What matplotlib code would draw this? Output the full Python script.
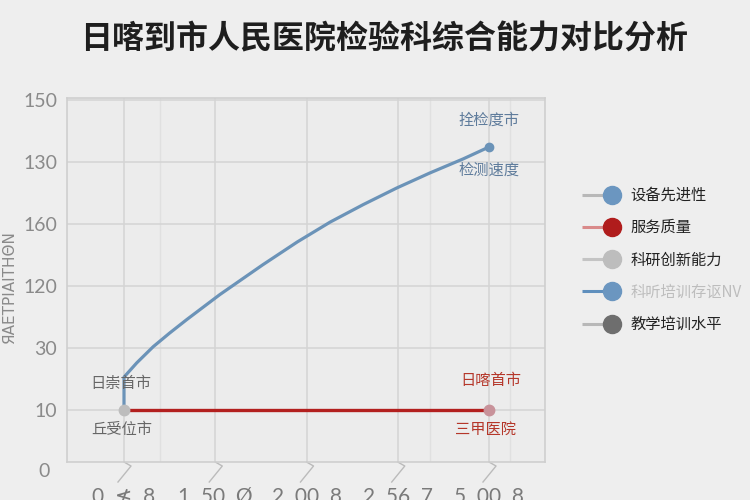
import matplotlib
matplotlib.use("Agg")
import matplotlib.pyplot as plt
from matplotlib.lines import Line2D
from matplotlib.legend_handler import HandlerLine2D

plt.rcParams['font.family'] = ['Noto Sans CJK SC', 'DejaVu Sans']

# 数据
title = "日喀到市人民医院检验科综合能力对比分析"
y_label = "ЯAETPIAITHΘN"
y_ticklabels = ["0", "10", "30", "120", "160", "130", "150"]
x_ticklabels = ["0  ≰  8", "1  50  Ø", "2  00  8", "2  56  7", "5  00  8"]

speed_x = [0, 0, 0.14, 0.32, 0.50, 0.69, 0.87, 1.05, 1.52, 1.90, 2.26, 2.62, 2.99, 3.35, 3.72, 4.0]
speed_y = [1.03, 1.53, 1.76, 2.02, 2.24, 2.46, 2.66, 2.86, 3.34, 3.71, 4.03, 4.31, 4.58, 4.82, 5.05, 5.24]
service_x = [0, 4]
service_y = [1.0, 1.0]

legend_labels = ["设备先进性", "服务质量", "科研创新能力", "科听培训存讴NV", "教学培训水平"]
legend_line_colors = ["#b8b8b8", "#d98a8a", "#c4c4c4", "#5f8fbd", "#b8b8b8"]
legend_dot_colors = ["#6b96c0", "#b01c1c", "#bdbdbd", "#6b96c0", "#6e6e6e"]
legend_text_colors = ["#222222", "#222222", "#222222", "#bdbdbd", "#222222"]


class EndDotHandler(HandlerLine2D):
    # 图例：线在左边，圆点在右端
    def create_artists(self, legend, orig_handle, xdescent, ydescent,
                       width, height, fontsize, trans):
        y = height / 2 - ydescent
        ms = orig_handle.get_markersize()
        r = ms * legend.figure.dpi / 72 / 2
        line = Line2D([-xdescent, width - xdescent - r], [y, y],
                      color=orig_handle.get_color(), lw=orig_handle.get_linewidth(),
                      solid_capstyle='butt')
        dot = Line2D([width - xdescent - r * 0.75], [y], ls='none', marker='o', markersize=ms,
                     markerfacecolor=orig_handle.get_markerfacecolor(),
                     markeredgecolor=orig_handle.get_markerfacecolor())
        line.set_transform(trans)
        dot.set_transform(trans)
        return [line, dot]


fig = plt.figure(figsize=(7.5, 5), dpi=100, facecolor="#eeeeee")
ax = fig.add_axes([0.0893, 0.076, 0.6374, 0.728], facecolor="#ececec")

ax.plot(speed_x, speed_y, color="#6b93b8", lw=2.3, zorder=3,
        solid_capstyle='round', solid_joinstyle='round')
ax.plot(service_x, service_y, color="#b3201f", lw=2.4, zorder=3)
ax.plot([speed_x[-1]], [speed_y[-1]], 'o', color="#6b93b8", ms=6, zorder=4)
ax.plot([service_x[0]], [service_y[0]], 'o', color="#bdbdbd", ms=7.5, zorder=4)
ax.plot([service_x[-1]], [service_y[-1]], 'o', color="#c8929a", ms=7.5, zorder=4)

# 标注文字
blue_txt = "#5f7c9c"
red_txt = "#b5372a"
gray_txt = "#666666"
ax.annotate("拴检度市", xy=(speed_x[-1], speed_y[-1]), xytext=(0, 19.5), textcoords='offset points',
            ha='center', va='center', fontsize=11, color=blue_txt)
ax.annotate("检测速度", xy=(speed_x[-1], speed_y[-1]), xytext=(0, -16.5), textcoords='offset points',
            ha='center', va='center', fontsize=11, color=blue_txt)
ax.annotate("日崇首市", xy=(service_x[0], service_y[0]), xytext=(-2, 18.7), textcoords='offset points',
            ha='center', va='center', fontsize=11, color=gray_txt)
ax.annotate("丘受位市", xy=(service_x[0], service_y[0]), xytext=(-1.5, -14.4), textcoords='offset points',
            ha='center', va='center', fontsize=11, color=gray_txt)
ax.annotate("日喀首市", xy=(service_x[-1], service_y[-1]), xytext=(1.4, 20.9), textcoords='offset points',
            ha='center', va='center', fontsize=11, color=red_txt)
ax.annotate("三甲医院", xy=(service_x[-1], service_y[-1]), xytext=(-2.2, -13.7), textcoords='offset points',
            ha='center', va='center', fontsize=11, color=red_txt)

# 坐标轴
tick_font = ['Lato', 'DejaVu Sans']
ax.set_xlim(-0.625, 4.614)
ax.set_ylim(0.161, 6.03)
ax.set_yticks(range(1, len(y_ticklabels)))
ax.set_yticklabels(y_ticklabels[1:], fontsize=14, color="#8a8a8a", family=tick_font)
ytrans = ax.get_yaxis_transform()
ax.text(-0.035, 0, y_ticklabels[0], transform=ytrans, ha='right', va='center',
        fontsize=14, color="#8a8a8a", family=tick_font, clip_on=False)
ax.set_xticks(range(len(x_ticklabels)))
ax.set_xticklabels(x_ticklabels, fontsize=15, color="#7a7a7a", family=tick_font)
ax.set_xticks([0.39, 3.35, 4.23], minor=True)
ax.tick_params(axis='both', which='both', length=0)
ax.tick_params(axis='y', pad=7)
ax.tick_params(axis='x', pad=18)

ax.grid(True, which='major', color="#d4d4d4", lw=1.1)
ax.grid(True, which='minor', axis='x', color="#e0e0e0", lw=1.0)
ax.set_axisbelow(True)
for sp in ax.spines.values():
    sp.set_color("#cfcfcf")
    sp.set_linewidth(1.2)

# x 轴下方的折线刻度
xtrans = ax.get_xaxis_transform()
for xv in range(len(x_ticklabels)):
    ax.plot([xv, xv + 0.077, xv - 0.066], [0, -0.011, -0.055], color="#bbbbbb", lw=1,
            transform=xtrans, clip_on=False)

fig.text(0.013, 0.424, y_label, rotation=90, ha='center', va='center', fontsize=11,
         color="#8a8a8a", family=['DejaVu Sans'])

fig.text(0.512, 1 - 39 / 500, title, ha='center', va='center', fontsize=23,
         fontweight='bold', color="#1e1e1e")

# 图例
handles = []
for lc, dc in zip(legend_line_colors, legend_dot_colors):
    handles.append(Line2D([], [], color=lc, lw=2.2, marker='o', markersize=13,
                          markerfacecolor=dc))
leg = fig.legend(handles, legend_labels, loc='upper left', bbox_to_anchor=(582 / 750, 1 - 187 / 500),
                 frameon=False, fontsize=11, handlelength=2.55, handletextpad=0.6,
                 labelspacing=1.0, borderpad=0, borderaxespad=0,
                 handler_map={Line2D: EndDotHandler()})
for t, c in zip(leg.get_texts(), legend_text_colors):
    t.set_color(c)

plt.savefig("out.png", dpi=100, facecolor=fig.get_facecolor())
